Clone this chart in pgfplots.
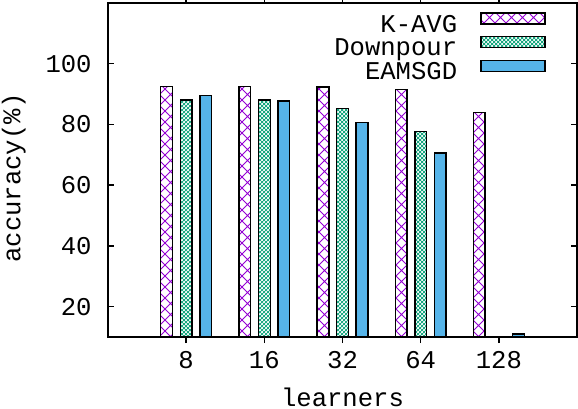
\documentclass[border=0pt]{standalone}
\usepackage{fontspec}
\setmainfont{Liberation Mono}
\usepackage{pgfplots}
\usepackage{pgfplotstable}
\pgfplotsset{compat=1.18}
\usetikzlibrary{patterns.meta}
\definecolor{kpurple}{HTML}{9400D3}
\definecolor{dgreen}{HTML}{009E73}
\definecolor{eblue}{HTML}{56B4E9}

\pgfdeclarepattern{
  name=bigx, type=uncolored,
  bottom left={\pgfpoint{-0.1pt}{-0.1pt}},
  top right={\pgfpoint{5.6pt}{5.6pt}},
  tile size={\pgfpoint{5.5pt}{5.5pt}},
  code={
    \pgfsetlinewidth{0.45pt}
    \pgfpathmoveto{\pgfpoint{0pt}{0pt}}\pgfpathlineto{\pgfpoint{5.5pt}{5.5pt}}
    \pgfpathmoveto{\pgfpoint{0pt}{5.5pt}}\pgfpathlineto{\pgfpoint{5.5pt}{0pt}}
    \pgfusepath{stroke}
  }}
\pgfdeclarepattern{
  name=smallx, type=uncolored,
  bottom left={\pgfpoint{-0.1pt}{-0.1pt}},
  top right={\pgfpoint{2.1pt}{2.1pt}},
  tile size={\pgfpoint{2pt}{2pt}},
  code={
    \pgfsetlinewidth{0.35pt}
    \pgfpathmoveto{\pgfpoint{0pt}{0pt}}\pgfpathlineto{\pgfpoint{2pt}{2pt}}
    \pgfpathmoveto{\pgfpoint{0pt}{2pt}}\pgfpathlineto{\pgfpoint{2pt}{0pt}}
    \pgfusepath{stroke}
  }}

\pgfplotstableread{
x y
1 92.6
2 92.6
3 92.3
4 91.6
5 84.0
}\kavg
\pgfplotstableread{
x y
1 88.0
2 88.0
3 85.3
4 77.7
}\downpour
\pgfplotstableread{
x y
1 89.6
2 87.7
3 80.6
4 70.6
5 11.0
}\eamsgd

\begin{document}
\fontsize{12.8}{15}\selectfont
\begin{tikzpicture}
\begin{axis}[
  name=ax,
  scale only axis,
  width=234.5pt, height=167pt,
  xmin=0, xmax=6, ymin=10, ymax=120,
  xtick={1,2,3,4,5},
  xticklabels={8,16,32,64,128},
  ytick={20,40,60,80,100},
  minor tick num=0,
  tick align=inside,
  major tick length=3pt,
  axis line style={line width=0.7pt},
  every tick/.style={black, line width=0.7pt},
  /pgf/number format/assume math mode=true,
  xticklabel style={anchor=north, inner sep=0pt, yshift=-4pt},
  yticklabel style={anchor=east, inner sep=0pt, xshift=-8pt},
  xlabel={learners},
  ylabel={accuracy(\%)},
  every axis x label/.style={at={(axis description cs:0.5,0)}, anchor=base, yshift=-34.5pt},
  every axis y label/.style={at={(axis description cs:-0.1870,0.476)}, rotate=90, anchor=base},
  ybar, bar width=0.15,
  legend cell align=right,
  legend plot pos=right,
  legend style={draw=none, fill=none, at={(rel axis cs:1,1)}, anchor=north east,
    xshift=-15.5pt, yshift=-4.5pt, inner sep=0pt, row sep=-0.5pt, column sep=11.5pt,
    nodes={inner sep=0pt, text height=8pt, text depth=2.5pt, xshift=-2pt}},
  mylegend/.style={legend image code/.code={\draw[##1] (0pt,1.2pt) rectangle (32pt,6.7pt);}},
]
\addplot[draw=black, line width=0.7pt, fill=white, pattern={bigx}, pattern color=kpurple, bar shift=-0.25, mylegend] table[x=x, y=y] {\kavg};
\addlegendentry{K-AVG}
\addplot[draw=black, line width=0.7pt, pattern={smallx}, pattern color=dgreen, bar shift=0, mylegend] table[x=x, y=y] {\downpour};
\addlegendentry{Downpour}
\addplot[draw=black, line width=0.7pt, fill=eblue, bar shift=0.25, mylegend] table[x=x, y=y] {\eamsgd};
\addlegendentry{EAMSGD}
\end{axis}
\pgfresetboundingbox
\useasboundingbox ([xshift=-54pt,yshift=-35.5pt]ax.south west) rectangle ([xshift=0.5pt,yshift=1.5pt]ax.north east);
\end{tikzpicture}
\end{document}
